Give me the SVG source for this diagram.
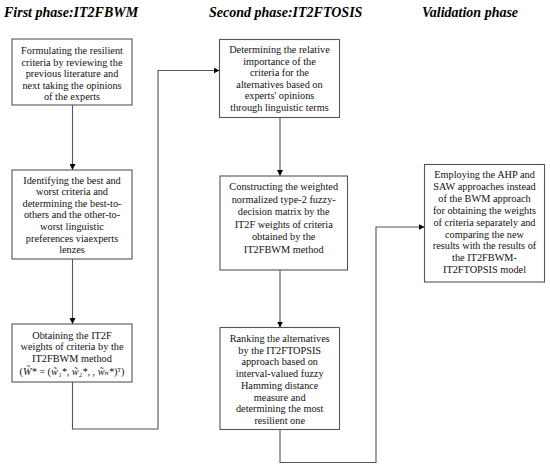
<svg xmlns="http://www.w3.org/2000/svg" width="550" height="468" viewBox="0 0 550 468">
<style>
.t{font-family:"Liberation Serif","Tinos","DejaVu Serif",serif;font-size:10.3px;fill:#111;text-anchor:middle}
.h{font-family:"Liberation Serif","Tinos","DejaVu Serif",serif;font-size:14px;font-weight:bold;font-style:italic;fill:#000}
.box{fill:#fff;stroke:#555;stroke-width:1.1}
.c{fill:none;stroke:#555;stroke-width:1.1}
.m{font-style:italic}
</style>
<defs>
<marker id="a" viewBox="0 0 10 10" refX="10" refY="5" markerWidth="6" markerHeight="6" markerUnits="userSpaceOnUse" orient="auto">
<path d="M0,0 L10,5 L0,10 z" fill="#000"/>
</marker>
</defs>
<rect width="550" height="468" fill="#fff"/>
<g id="headers">
<text class="h" x="4" y="17">First phase:IT2FBWM</text>
<text class="h" x="209" y="17">Second phase:IT2FTOSIS</text>
<text class="h" x="422" y="17">Validation phase</text>
</g>
<g id="connectors">
<line class="c" x1="72.5" y1="105" x2="72.5" y2="170" marker-end="url(#a)"/>
<line class="c" x1="72.5" y1="259" x2="72.5" y2="324" marker-end="url(#a)"/>
<polyline class="c" points="72.5,382 72.5,429 158,429 158,70.5 219.5,70.5" marker-end="url(#a)"/>
<line class="c" x1="280" y1="118" x2="280" y2="176" marker-end="url(#a)"/>
<line class="c" x1="280" y1="270" x2="280" y2="327.5" marker-end="url(#a)"/>
<polyline class="c" points="280,429.5 280,462.5 376,462.5 376,227 424.5,227" marker-end="url(#a)"/>
</g>
<g id="n1">
<rect class="box" x="12" y="39" width="120" height="66"/>
<text class="t"><tspan x="72" y="54">Formulating the resilient</tspan><tspan x="72" y="65.6">criteria by reviewing the</tspan><tspan x="72" y="77.2">previous literature and</tspan><tspan x="72" y="88.8">next taking the opinions</tspan><tspan x="72" y="100.4">of  the experts</tspan></text>
</g>
<g id="n2">
<rect class="box" x="12" y="170" width="120" height="89"/>
<text class="t"><tspan x="72" y="183.5">Identifying the best and</tspan><tspan x="72" y="195.1">worst criteria and</tspan><tspan x="72" y="206.7">determining the best-to-</tspan><tspan x="72" y="218.3">others and the other-to-</tspan><tspan x="72" y="229.9">worst linguistic</tspan><tspan x="72" y="241.5">preferences viaexperts</tspan><tspan x="72" y="253.1">lenzes</tspan></text>
</g>
<g id="n3">
<rect class="box" x="12" y="324" width="120" height="58"/>
<text class="t"><tspan x="72" y="338.5">Obtaining the IT2F</tspan><tspan x="72" y="350">weights of criteria by the</tspan><tspan x="72" y="361.5">IT2FBWM method</tspan></text>
<text class="t" x="72" y="375">(<tspan class="m">W̃*</tspan> = (<tspan class="m">w̃₁*</tspan>, <tspan class="m">w̃₂*</tspan>,   , <tspan class="m">w̃ₙ*</tspan>)ᵀ)</text>
</g>
<g id="n4">
<rect class="box" x="219.5" y="39.5" width="120" height="78"/>
<text class="t"><tspan x="279.5" y="53">Determining the relative</tspan><tspan x="279.5" y="64.6">importance of the</tspan><tspan x="279.5" y="76.2">criteria for the</tspan><tspan x="279.5" y="87.8">alternatives based on</tspan><tspan x="279.5" y="99.4">experts' opinions</tspan><tspan x="279.5" y="111">through linguistic terms</tspan></text>
</g>
<g id="n5">
<rect class="box" x="220" y="176" width="127.5" height="94"/>
<text class="t"><tspan x="283.7" y="190">Constructing  the weighted</tspan><tspan x="283.7" y="202.6">normalized type-2 fuzzy-</tspan><tspan x="283.7" y="215.2">decision matrix by the</tspan><tspan x="283.7" y="227.8">IT2F weights of criteria</tspan><tspan x="283.7" y="240.4">obtained by the</tspan><tspan x="283.7" y="253">IT2FBWM method</tspan></text>
</g>
<g id="n6">
<rect class="box" x="220" y="327.5" width="119.5" height="102"/>
<text class="t"><tspan x="279.7" y="342">Ranking the alternatives</tspan><tspan x="279.7" y="353.7">by the IT2FTOPSIS</tspan><tspan x="279.7" y="365.4">approach based on</tspan><tspan x="279.7" y="377.1">interval-valued fuzzy</tspan><tspan x="279.7" y="388.8">Hamming distance</tspan><tspan x="279.7" y="400.5">measure and</tspan><tspan x="279.7" y="412.2">determining the most</tspan><tspan x="279.7" y="423.9">resilient one</tspan></text>
</g>
<g id="n7">
<rect class="box" x="424.5" y="164.5" width="120" height="117.5"/>
<text class="t"><tspan x="484.5" y="178">Employing the AHP and</tspan><tspan x="484.5" y="189.9">SAW approaches instead</tspan><tspan x="484.5" y="201.8">of the BWM approach</tspan><tspan x="484.5" y="213.7">for obtaining the weights</tspan><tspan x="484.5" y="225.6">of criteria separately and</tspan><tspan x="484.5" y="237.5">comparing the new</tspan><tspan x="484.5" y="249.4">results with the results of</tspan><tspan x="484.5" y="261.3">the IT2FBWM-</tspan><tspan x="484.5" y="273.2">IT2FTOPSIS model</tspan></text>
</g>
</svg>
